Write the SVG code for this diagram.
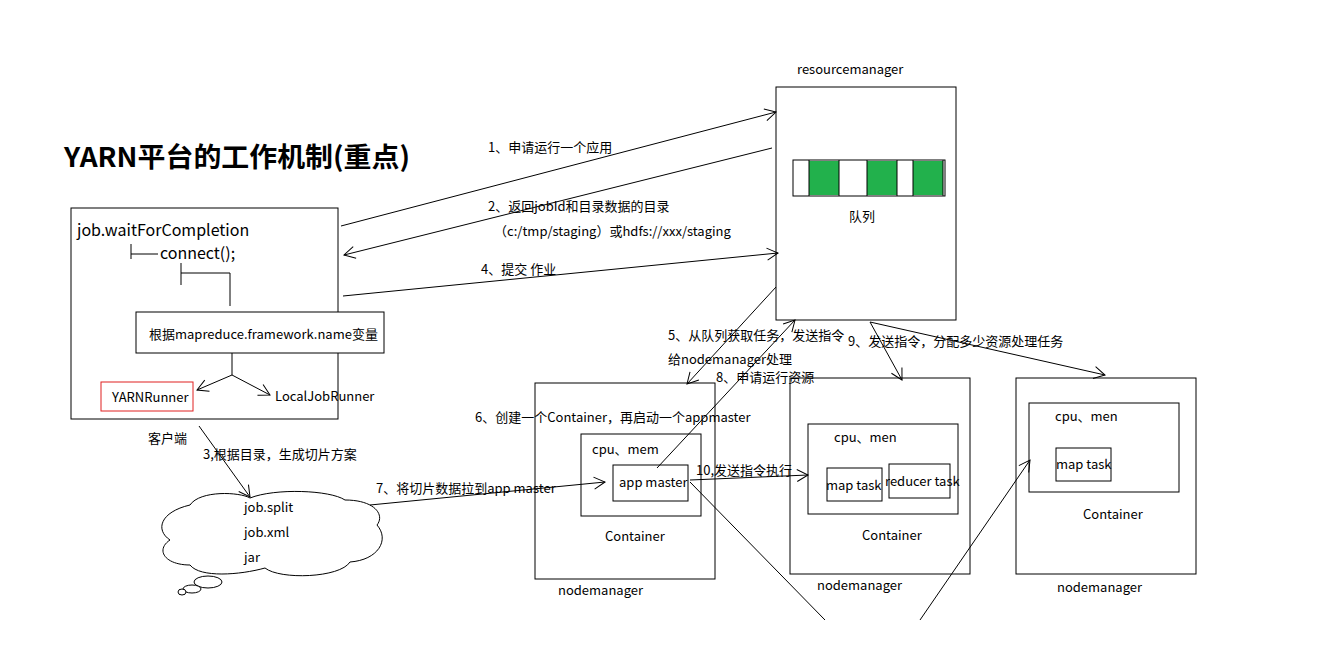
<svg xmlns="http://www.w3.org/2000/svg" width="1325" height="669" viewBox="0 0 1325 669">
<defs>
<style>
text{font-family:"Noto Sans CJK SC","Noto Sans",sans-serif;font-size:13px;fill:#000}
.b{fill:#fff;stroke:#000;stroke-width:1}
.l{stroke:#000;stroke-width:1;fill:none}
</style>
<marker id="a" markerWidth="14" markerHeight="14" refX="12" refY="7" orient="auto" markerUnits="userSpaceOnUse"><path d="M1,1 L12,7 L1,13" fill="none" stroke="#000"/></marker>
</defs>
<rect width="1325" height="669" fill="#fff"/>
<text x="64" y="167" style="font-size:27px;font-weight:bold" textLength="346" lengthAdjust="spacingAndGlyphs">YARN平台的工作机制(重点)</text>
<g id="client">
<rect class="b" x="71" y="208" width="267" height="211"/>
<text x="77" y="236" style="font-size:16px">job.waitForCompletion</text>
<text x="160" y="259" style="font-size:16px">connect();</text>
<path class="l" d="M131,244 V259 M131,254 H158 M181,263 V285 M181,273 H230 V306"/>
<text x="148" y="443">客户端</text>
</g>
<g id="framework"><rect class="b" x="136" y="312" width="248" height="41"/><text x="149" y="339">根据mapreduce.framework.name变量</text></g>
<g id="yarnrunner"><rect x="101" y="382" width="92" height="29" fill="#fff" stroke="#e02020"/><text x="112" y="402">YARNRunner</text></g>
<g id="local"><text x="275" y="401">LocalJobRunner</text></g>
<g id="rm">
<text x="797" y="74">resourcemanager</text>
<rect class="b" x="776" y="87" width="180" height="233"/>
<rect class="b" x="793" y="160" width="152" height="36"/>
<rect x="809" y="161" width="30" height="34" fill="#22b14c"/>
<rect x="867" y="161" width="30" height="34" fill="#22b14c"/>
<rect x="913" y="161" width="30" height="34" fill="#22b14c"/>
<path class="l" d="M809,160V196M839,160V196M867,160V196M897,160V196M913,160V196M943,160V196"/>
<text x="849" y="221">队列</text>
</g>
<g id="cloud">
<path d="M190,505 C200,490 240,492 250,498 C275,488 330,490 345,500 C375,500 385,515 377,525 C390,540 378,560 350,562 C340,578 280,580 265,568 C240,575 200,578 190,565 C165,565 155,550 170,540 C155,530 160,512 190,505 Z" class="b"/>
<ellipse class="b" cx="208" cy="582" rx="14" ry="6"/><ellipse class="b" cx="192" cy="589" rx="9" ry="4"/><ellipse class="b" cx="182" cy="592" rx="4" ry="3"/>
<text x="244" y="512">job.split</text><text x="244" y="537">job.xml</text><text x="244" y="562">jar</text>
</g>
<g id="nm1">
<rect class="b" x="535" y="383" width="180" height="196"/>
<rect class="b" x="581" y="434" width="120" height="82"/>
<text x="592" y="454">cpu、mem</text>
<rect class="b" x="613" y="465" width="75" height="36"/>
<text x="619" y="487">app master</text>
<text x="605" y="541">Container</text>
<text x="558" y="595">nodemanager</text>
</g>
<g id="nm2">
<rect class="b" x="790" y="378" width="180" height="196"/>
<rect class="b" x="808" y="424" width="150" height="90"/>
<text x="834" y="442">cpu、men</text>
<rect class="b" x="827" y="468" width="55" height="33"/><text x="826" y="490">map task</text>
<rect class="b" x="889" y="464" width="61" height="34"/><text x="885" y="486">reducer task</text>
<text x="862" y="540">Container</text>
<text x="817" y="590">nodemanager</text>
</g>
<g id="nm3">
<rect class="b" x="1016" y="378" width="180" height="196"/>
<rect class="b" x="1029" y="403" width="150" height="89"/>
<text x="1055" y="421">cpu、men</text>
<rect class="b" x="1056" y="448" width="55" height="33"/><text x="1056" y="469">map task</text>
<text x="1083" y="519">Container</text>
<text x="1057" y="592">nodemanager</text>
</g>
<g id="connectors">
<line class="l" x1="341" y1="226" x2="776" y2="112" marker-end="url(#a)"/>
<line class="l" x1="772" y1="148" x2="344" y2="255" marker-end="url(#a)"/>
<line class="l" x1="343" y1="296" x2="778" y2="253" marker-end="url(#a)"/>
<line class="l" x1="776" y1="287" x2="687" y2="384" marker-end="url(#a)"/>
<line class="l" x1="657" y1="468" x2="795" y2="320" marker-end="url(#a)"/>
<line class="l" x1="870" y1="322" x2="902" y2="380" marker-end="url(#a)"/>
<line class="l" x1="870" y1="322" x2="1105" y2="375" marker-end="url(#a)"/>
<line class="l" x1="690" y1="480" x2="808" y2="475" marker-end="url(#a)"/>
<line class="l" x1="370" y1="505" x2="605" y2="482" marker-end="url(#a)"/>
<line class="l" x1="199" y1="426" x2="250" y2="497" marker-end="url(#a)"/>
<line class="l" x1="690" y1="482" x2="825" y2="620"/>
<line class="l" x1="920" y1="620" x2="1030" y2="460" marker-end="url(#a)"/>
<line class="l" x1="232" y1="353" x2="232" y2="375"/>
<line class="l" x1="232" y1="375" x2="197" y2="390" marker-end="url(#a)"/>
<line class="l" x1="232" y1="375" x2="270" y2="395" marker-end="url(#a)"/>
<text x="488" y="152">1、申请运行一个应用</text>
<text x="488" y="211">2、返回jobId和目录数据的目录</text>
<text x="494" y="236">（c:/tmp/staging）或hdfs://xxx/staging</text>
<text x="481" y="274">4、提交 作业</text>
<text x="203" y="459">3,根据目录，生成切片方案</text>
<text x="376" y="493">7、将切片数据拉到app master</text>
<text x="668" y="340">5、从队列获取任务，发送指令</text>
<text x="668" y="364">给nodemanager处理</text>
<text x="716" y="382">8、申请运行资源</text>
<text x="848" y="346">9、发送指令，分配多少资源处理任务</text>
<text x="475" y="422">6、创建一个Container，再启动一个appmaster</text>
<text x="696" y="475">10,发送指令执行</text>
</g>
</svg>
